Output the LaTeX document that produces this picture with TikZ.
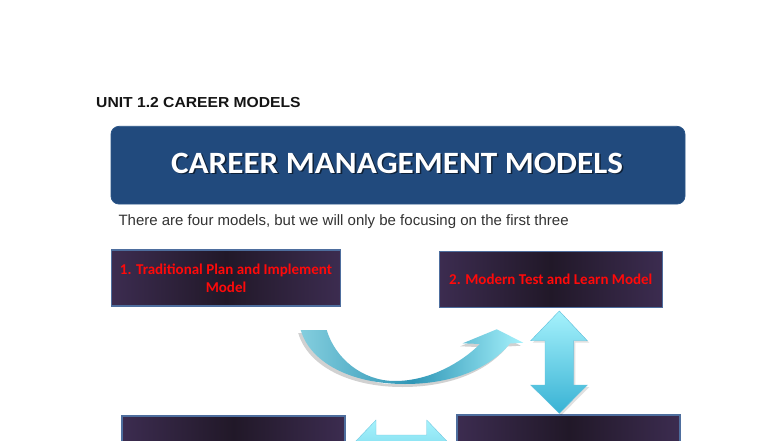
\documentclass[tikz,border=0pt]{standalone}
\usepackage{fontspec}
\setmainfont{Carlito}
\newfontfamily\arialf{Liberation Sans}
\newfontfamily\arialwide[FakeStretch=1.08]{Liberation Sans}
\newfontfamily\titlefont[FakeStretch=1.07]{Carlito}
\definecolor{banner}{HTML}{214A7D}
\definecolor{bannerEdge}{HTML}{2A5588}
\definecolor{boxside}{HTML}{3C2C50}
\definecolor{boxmid}{HTML}{211828}
\definecolor{boxedge}{HTML}{4E6E9E}
\definecolor{boxtext}{HTML}{FF0A0A}
\definecolor{cyanlight}{HTML}{A6F2FC}
\definecolor{cyandark}{HTML}{38B2D4}
\definecolor{tealtail}{HTML}{84CEDE}
\definecolor{tealdark}{HTML}{2F96B6}
\definecolor{subgray}{HTML}{333333}
\colorlet{titleshadow}{banner!45!black}
\newcommand{\shadowtext}[1]{\makebox[0pt][l]{\hspace{1.6pt}\raisebox{-1.4pt}{\textcolor{titleshadow}{#1}}}#1}
\tikzset{
  mbox/.style={draw=boxedge, line width=1.3pt, left color=boxside, right color=boxside,
    middle color=boxmid, minimum width=223pt, minimum height=56pt, inner sep=0pt,
    font=\bfseries\fontsize{15}{18.4}\selectfont, text=boxtext, align=center},
  vfill/.style={top color=cyanlight, bottom color=cyandark, draw=cyandark!80!white, line width=0.4pt},
  hfill/.style={top color=cyanlight, bottom color=cyandark!60!cyanlight, draw=cyandark!70!white, line width=0.4pt},
  curvefill/.style={left color=tealtail, right color=cyanlight, middle color=tealdark},
  shadowfill/.style={fill=black, opacity=0.18},
  plaintext/.style={inner sep=0pt, anchor=base west}
}
\begin{document}
\begin{tikzpicture}[x=1pt,y=-1pt]
\useasboundingbox (0,0) rectangle (784,441);
\fill[white] (0,0) rectangle (784,441);
\clip (0,0) rectangle (784,441);

% header
\node[plaintext, font=\arialwide\bfseries\fontsize{14.5}{17}\selectfont, text=black!92] (unit) at (96,107.2) {UNIT 1.2 CAREER MODELS};

% banner
\node[fill=banner, draw=bannerEdge, line width=0.8pt, rounded corners=8pt,
  minimum width=574pt, minimum height=77.7pt, inner sep=0pt] (banner) at (398,165.2) {};
\node[inner sep=0pt, anchor=base, font=\titlefont\bfseries\fontsize{31}{36}\selectfont, text=white] (title) at (397,173) {\shadowtext{CAREER MANAGEMENT MODELS}};

% subtitle
\node[plaintext, font=\arialf\fontsize{15}{18}\selectfont, text=subgray] (sub) at (118.3,225) {There are four models, but we will only be focusing on the first three};

% model boxes
\node[mbox, minimum width=228.6pt] (m1) at (226,278) {1. Traditional Plan and Implement\\Model};
\node[mbox] (m2) at (550.8,279.2) {2. Modern Test and Learn Model};
\node[mbox] (m3) at (233.5,444) {};
\node[mbox] (m4) at (568.5,443) {};

% curved arrow (shadow then body)
\begin{scope}[shift={(-2.5,3)}]
\fill[shadowfill] (300.7,330) -- (326.7,330)
  .. controls (335,358) and (362,381) .. (395,381)
  .. controls (430,381) and (462,362) .. (480,344)
  -- (462.7,343.3) -- (496.7,329.3) -- (523.3,342.7) -- (510,343.5)
  .. controls (488,370) and (450,384) .. (405,384)
  .. controls (350,384) and (310,362) .. (300.7,330) -- cycle;
\end{scope}
\path[curvefill] (300.7,330) -- (326.7,330)
  .. controls (335,358) and (362,381) .. (395,381)
  .. controls (430,381) and (462,362) .. (480,344)
  -- (462.7,343.3) -- (496.7,329.3) -- (523.3,342.7) -- (510,343.5)
  .. controls (488,370) and (450,384) .. (405,384)
  .. controls (350,384) and (310,362) .. (300.7,330) -- cycle;

% vertical double arrow
\fill[shadowfill, opacity=0.12] (561.3,313) -- (589.3,342.7) -- (575.3,342.7) -- (575.3,387) -- (589.3,387)
  -- (561.3,415.3) -- (532.7,387) -- (547,387) -- (547,342.7) -- (532.7,342.7) -- cycle;
\path[vfill] (559.3,311) -- (587.3,340.7) -- (573.3,340.7) -- (573.3,385) -- (587.3,385)
  -- (559.3,413.3) -- (530.7,385) -- (545,385) -- (545,340.7) -- (530.7,340.7) -- cycle;

% horizontal double arrow (bottom, cut by the page edge)
\path[hfill] (347.4,450) -- (376,420) -- (376,435) -- (426.7,435) -- (426.7,420) -- (455.3,450)
  -- (426.7,480) -- (426.7,465) -- (376,465) -- (376,480) -- cycle;
\end{tikzpicture}
\end{document}
